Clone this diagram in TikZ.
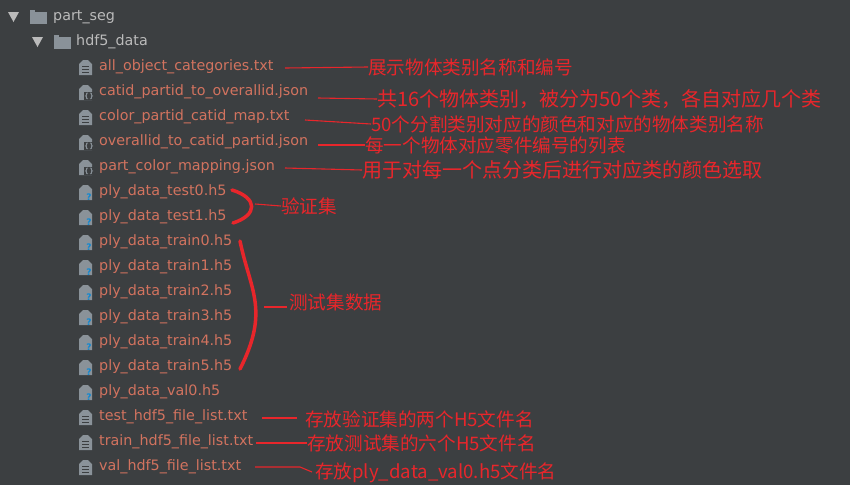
\documentclass[tikz,border=0pt]{standalone}
\usepackage{fontspec}
\setmainfont{DejaVu Sans}
\newfontfamily\cjk{Noto Sans CJK SC}
\definecolor{bg}{HTML}{3C3F41}
\definecolor{fname}{HTML}{D2735F}
\definecolor{dname}{HTML}{BBBBBB}
\definecolor{ann}{HTML}{E8262B}
\definecolor{icon}{HTML}{8A9299}
\tikzset{
 fn/.style={anchor=west,text=fname,font=\fontsize{14.3}{16}\selectfont,inner sep=0},
 dn/.style={anchor=west,text=dname,font=\fontsize{14.3}{16}\selectfont,inner sep=0},
 an/.style={anchor=west,text=ann,font=\cjk\fontsize{18.6}{20}\selectfont,inner sep=0},
 anb/.style={an,font=\cjk\fontsize{20}{22}\selectfont},
 al/.style={draw=ann,line width=1.1pt},
 br/.style={draw=ann,line width=3.5pt,line cap=round},
}
\newcommand{\txticon}[1]{\fill[icon] (83,#1-7)--(88,#1-7)--(92,#1-3)--(92,#1+8)--(79,#1+8)--(79,#1-3)--cycle;
 \foreach \k in {0,3,6}{\draw[bg,line width=0.8pt] (82,#1-1+\k)--(89,#1-1+\k);}}
\newcommand{\jsicon}[1]{\fill[icon] (83,#1-7)--(88,#1-7)--(92,#1-3)--(92,#1+8)--(79,#1+8)--(79,#1-3)--cycle;
 \node[fill=bg,text=icon,font=\fontsize{7}{7}\selectfont\bfseries,inner sep=0.5pt] at (89,#1+4) {\{\}};}
\newcommand{\hicon}[1]{\fill[icon] (83,#1-7)--(88,#1-7)--(92,#1-3)--(92,#1+8)--(79,#1+8)--(79,#1-3)--cycle;
 \node[text=cyan!70!blue,font=\fontsize{9}{9}\selectfont\bfseries,inner sep=0] at (89,#1+5) {?};}
\begin{document}
\begin{tikzpicture}[x=1pt,y=-1pt]
\fill[bg] (0,0) rectangle (850,485);
\useasboundingbox (0,0) rectangle (850,485);
% tree
\fill[dname] (8,12)--(19,12)--(13.5,22)--cycle;
\fill[icon] (30,10) rectangle (35,12); \fill[icon] (30,12) rectangle (47,24);
\node[dn] (ps) at (53,17) {part\_seg};
\fill[dname] (32,37)--(43,37)--(37.5,47)--cycle;
\fill[icon] (54,35) rectangle (59,37); \fill[icon] (54,37) rectangle (71,49);
\node[dn] (hd) at (76,42) {hdf5\_data};
\txticon{67}\node[fn] (f1) at (99,67) {all\_object\_categories.txt};
\jsicon{92}\node[fn] (f2) at (99,92) {catid\_partid\_to\_overallid.json};
\txticon{117}\node[fn] (f3) at (99,117) {color\_partid\_catid\_map.txt};
\jsicon{142}\node[fn] (f4) at (99,142) {overallid\_to\_catid\_partid.json};
\jsicon{167}\node[fn] (f5) at (99,167) {part\_color\_mapping.json};
\hicon{192}\node[fn] (f6) at (99,192) {ply\_data\_test0.h5};
\hicon{217}\node[fn] (f7) at (99,217) {ply\_data\_test1.h5};
\foreach \i in {0,...,5}{\hicon{242+25*\i}\node[fn] (t\i) at (99,242+25*\i) {ply\_data\_train\i.h5};}
\hicon{392}\node[fn] (f8) at (99,392) {ply\_data\_val0.h5};
\txticon{417}\node[fn] (f9) at (99,417) {test\_hdf5\_file\_list.txt};
\txticon{442}\node[fn] (f10) at (99,442) {train\_hdf5\_file\_list.txt};
\txticon{467}\node[fn] (f11) at (99,467) {val\_hdf5\_file\_list.txt};
% annotations
\node[an] (a1) at (368,67) {展示物体类别名称和编号};
\draw[al] (285,68)--(a1.west);
\node[anb] (a2) at (377,99) {共16个物体类别，被分为50个类，各自对应几个类};
\draw[al] (318,98)--(a2.west);
\node[an] (a3) at (371,124) {50个分割类别对应的颜色和对应的物体类别名称};
\draw[al] (305,120)--(a3.west);
\node[an] (a4) at (365,145) {每一个物体对应零件编号的列表};
\draw[al] (318,145)--(a4.west);
\node[anb] (a5) at (362,170) {用于对每一个点分类后进行对应类的颜色选取};
\draw[al] (285,168)--(a5.west);
\draw[br] (232,190) .. controls (258,198) and (258,215) .. (233,223);
\node[an] (a6) at (281,206) {验证集};
\draw[al] (255,204)--(a6.west);
\draw[br] (240,241) .. controls (250,290) and (270,310) .. (240,369);
\node[an] (a7) at (289,302) {测试集数据};
\draw[al] (264,307)--(287,307);
\node[an] (a8) at (305,419) {存放验证集的两个H5文件名};
\draw[al] (262,418)--(297,418);
\node[an] (a9) at (307,443) {存放测试集的六个H5文件名};
\draw[al] (256,443)--(a9.west);
\node[an] (a10) at (315,473) {存放ply\_data\_val0.h5文件名};
\draw[al] (255,467)--(300,467)--(312,472);
\end{tikzpicture}
\end{document}
